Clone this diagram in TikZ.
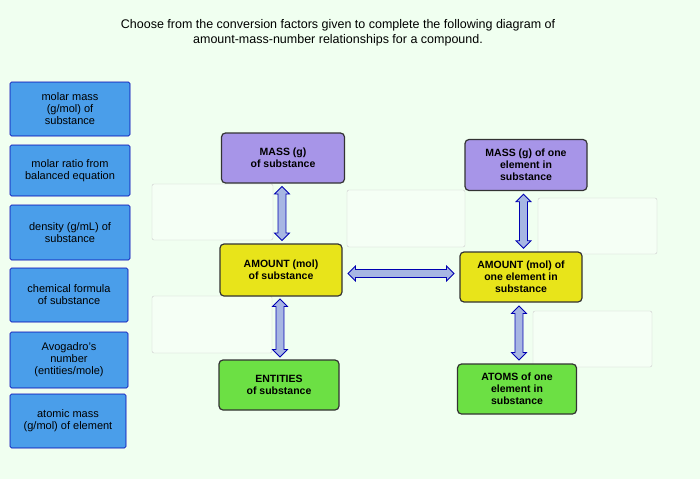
\documentclass[tikz,border=0pt]{standalone}
\usepackage{fontspec}
\setmainfont{Liberation Sans}
\usetikzlibrary{shapes.arrows,calc}
\definecolor{srcblue}{HTML}{4A9EEA}
\definecolor{mpurple}{HTML}{A795E8}
\definecolor{myellow}{HTML}{E8E41A}
\definecolor{mgreen}{HTML}{6CE044}
\begin{document}
\begin{tikzpicture}[x=1pt,y=-1pt,
 src/.style={draw=blue!70!black,fill=srcblue,line width=0.6pt,rounded corners=1.5pt,align=center,font=\fontsize{11}{12}\selectfont},
 mainbox/.style={draw=black!80,line width=1.2pt,rounded corners=4pt,align=center,font=\bfseries\fontsize{10.5}{12}\selectfont},
 slot/.style={draw=black!20,fill=white!96!green,rounded corners=2pt},
 dbl/.style={double arrow,draw=blue!70!black,line width=0.8pt,fill=cyan!40!blue!35,double arrow head extend=3pt,minimum height=#1,minimum width=15pt,inner sep=3pt}]
\fill[green!6!white] (0,0) rectangle (700,479);
\node[align=center,font=\fontsize{12.5}{15}\selectfont] (title) at (338,33) {Choose from the conversion factors given to complete the following diagram of\\amount-mass-number relationships for a compound.};
\foreach \n/\a/\b/\c/\d/\t in {s1/10/82/130/136/{molar mass\\(g/mol) of\\substance},
 s2/10/145/130/196/{molar ratio from\\balanced equation},
 s3/10/205/130/260/{density (g/mL) of\\substance},
 s4/10/268/128/322/{chemical formula\\of substance},
 s5/10/332/128/388/{Avogadro's\\number\\(entities/mole)},
 s6/10/394/126/448/{atomic mass\\(g/mol) of element}}
 {\node[src,minimum width={\c-\a},minimum height={\d-\b}] (\n) at ({(\a+\c)/2},{(\b+\d)/2}) {\t};}
\foreach \n/\a/\b/\c/\d in {e1/152/184/273/240, e2/347/190/465/247, e3/538/198/657/254, e4/152/296/272/353, e5/533/311/652/367}
 {\node[slot,minimum width={\c-\a},minimum height={\d-\b}] (\n) at ({(\a+\c)/2},{(\b+\d)/2}) {};}
\node[mainbox,fill=mpurple,minimum width=123pt,minimum height=50pt] (m1) at (283,158) {MASS (g)\\of substance};
\node[mainbox,fill=mpurple,minimum width=122pt,minimum height=51pt] (m2) at (526,165) {MASS (g) of one\\element in\\substance};
\node[mainbox,fill=myellow,minimum width=122pt,minimum height=52pt] (a1) at (281,270) {AMOUNT (mol)\\of substance};
\node[mainbox,fill=myellow,minimum width=122pt,minimum height=50pt] (a2) at (521,277) {AMOUNT (mol) of\\one element in\\substance};
\node[mainbox,fill=mgreen,minimum width=120pt,minimum height=50pt] (n1) at (279,385) {ENTITIES\\of substance};
\node[mainbox,fill=mgreen,minimum width=119pt,minimum height=50pt] (n2) at (517,389) {ATOMS of one\\element in\\substance};
\node[dbl=54pt,rotate=90] (v1) at ($(m1.south)!0.5!(a1.north)$) {};
\node[dbl=54pt,rotate=90] (v2) at ($(m2.south)!0.5!(a2.north)$) {};
\node[dbl=58pt,rotate=90] (v3) at ($(a1.south)!0.5!(n1.north)$) {};
\node[dbl=54pt,rotate=90] (v4) at ($(a2.south)!0.5!(n2.north)$) {};
\node[dbl=106pt] (h1) at ($(a1.east)!0.5!(a2.west)$) {};
\end{tikzpicture}
\end{document}
